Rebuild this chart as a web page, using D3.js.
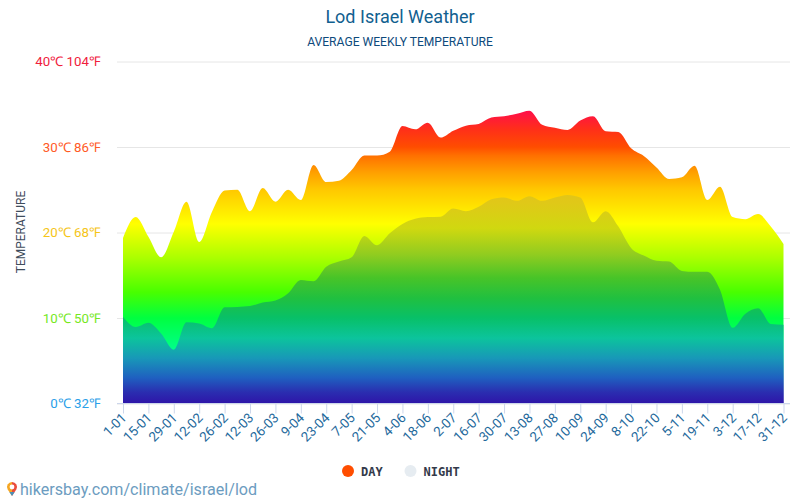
<!DOCTYPE html>
<html>
<head>
<meta charset="utf-8">
<title>Lod Israel Weather</title>
<script src="https://cdn.jsdelivr.net/npm/d3@7"></script>
<style>
  body { margin: 0; background: #fff; }
  text { font-family: Roboto, sans-serif; }
</style>
</head>
<body>
<div id="chart"></div>
<script>
// weekly values
const weeks = ['1-01','8-01','15-01','22-01','29-01','5-02','12-02','19-02','26-02','5-03','12-03','19-03','26-03',
  '2-04','9-04','16-04','23-04','30-04','7-05','14-05','21-05','28-05','4-06','11-06','18-06','25-06',
  '2-07','9-07','16-07','23-07','30-07','6-08','13-08','20-08','27-08','3-09','10-09','17-09','24-09',
  '1-10','8-10','15-10','22-10','29-10','5-11','12-11','19-11','26-11','3-12','10-12','17-12','24-12','31-12'];

const dayTemps = [19.35,21.8,19.5,17.1,20.1,23.6,18.9,22.4,24.9,25,22.5,25.2,
  23.6,25,23.8,27.9,25.9,26.05,27.3,29,29,29.45,32.45,32.07,32.85,31.1,31.9,32.5,32.7,33.45,33.6,33.9,34.25,
  32.6,32.25,32,33.1,33.6,31.85,31.75,29.85,28.95,27.6,26.25,26.45,27.8,23.8,25.35,21.8,21.55,22.15,20.7,18.65];

const nightTemps = [10.15,8.95,9.45,8.2,6.3,9.5,9.35,8.8,11.25,11.3,11.4,11.8,
  12.05,12.9,14.45,14.3,16,16.6,17.1,19.6,18.5,19.9,21,21.6,21.8,21.85,22.8,22.5,23,23.9,24.1,23.7,24.25,
  23.7,24.1,24.4,24.1,21.2,22.5,20.7,18.2,17.3,16.7,16.6,15.5,15.4,15.4,13.3,8.85,10.5,11.15,9.3,9.2];

const yTicks = [0, 10, 20, 30, 40];
const yTickLabels = ['0℃ 32℉', '10℃ 50℉', '20℃ 68℉', '30℃ 86℉', '40℃ 104℉'];
const yTickColors = ['#2aa0e8', '#76e81e', '#f5c518', '#ff5a26', '#f0203c'];

// [temperature, colour]
const dayStops = [[0,'#2e14a8'],[6,'#00ff90'],[10,'#00ff40'],[13,'#48ff00'],[17,'#aaff00'],[21,'#ffff00'],
  [25,'#ffc800'],[27,'#ffa000'],[29,'#ff7000'],[30,'#ff4d00'],[32,'#ff3018'],[34.5,'#ff0a50']];
const nightStops = [[0,'#2e14a8'],[1.35,'#2a2eb0'],[3,'#1f60c0'],[5.3,'#1898b8'],[7.65,'#0cc49c'],[10,'#08c068'],
  [12.3,'#20c040'],[14.7,'#48c428'],[17.4,'#90cc20'],[20.5,'#d0d810'],[23.5,'#e0c818'],[24.5,'#e2c518']];

const width = 800, height = 500;

const svg = d3.select('#chart').append('svg')
  .attr('width', width)
  .attr('height', height)
  .style('display', 'block');

const x = d3.scalePoint().domain(weeks).range([123, 783.5]);
const y = d3.scaleLinear().domain([0, 40]).range([403.5, 61.5]);

function addGradient(id, stops) {
  let grad = svg.append('defs').append('linearGradient')
    .attr('id', id)
    .attr('gradientUnits', 'userSpaceOnUse')
    .attr('x1', 0).attr('x2', 0)
    .attr('y1', y(0)).attr('y2', y(stops[stops.length - 1][0]));
  let top = stops[stops.length - 1][0];
  stops.forEach(s => {
    grad.append('stop').attr('offset', s[0] / top).attr('stop-color', s[1]);
  });
}
addGradient('dayFill', dayStops);
addGradient('nightFill', nightStops);

// grid + y labels
const yAxis = svg.append('g')
  .attr('transform', 'translate(117,0)')
  .call(d3.axisLeft(y).tickValues(yTicks).tickSize(-673).tickPadding(16).tickFormat((d, i) => yTickLabels[i]));
yAxis.select('.domain').remove();
yAxis.selectAll('line').attr('stroke', '#e6e6e6');
yAxis.selectAll('text')
  .style('font-size', '13.3px')
  .attr('fill', (d, i) => yTickColors[i]);

// areas
const makeArea = vals => d3.area()
  .x((d, i) => x(weeks[i]))
  .y0(y(0))
  .y1(d => y(d))
  .curve(d3.curveMonotoneX)(vals);

svg.append('path').attr('d', makeArea(dayTemps)).attr('fill', 'url(#dayFill)');
svg.append('path').attr('d', makeArea(nightTemps)).attr('fill', 'url(#nightFill)');

// x axis, every second week is labelled
const xAxis = svg.append('g')
  .attr('transform', 'translate(0,' + y(0) + ')')
  .call(d3.axisBottom(x).tickValues(weeks.filter((d, i) => i % 2 == 0)).tickSize(10).tickSizeOuter(0));
xAxis.select('.domain').remove();
xAxis.append('line').attr('x1', 117).attr('x2', 790).attr('stroke', '#ccd6eb');
xAxis.selectAll('.tick line').attr('stroke', '#ccd6eb');
xAxis.selectAll('.tick text')
  .attr('text-anchor', 'end')
  .attr('transform', 'translate(-3.5,5) rotate(-45)')
  .attr('dy', '0.32em')
  .attr('y', 8)
  .attr('x', -2)
  .attr('fill', '#1f6a9c')
  .style('font-size', '13.4px');

// titles
svg.append('text').attr('x', 400).attr('y', 23).attr('text-anchor', 'middle')
  .attr('fill', '#11608f').style('font-size', '18px').text('Lod Israel Weather');
svg.append('text').attr('x', 400).attr('y', 46).attr('text-anchor', 'middle')
  .attr('fill', '#0d4a7c').style('font-size', '12.1px').text('AVERAGE WEEKLY TEMPERATURE');
svg.append('text').attr('transform', 'translate(25,232) rotate(-90)').attr('text-anchor', 'middle')
  .attr('fill', '#3f4d5c').style('font-size', '12px').text('TEMPERATURE');

// legend
const legend = [['DAY', '#ff4d00', 348], ['NIGHT', '#e6ecf1', 410.5]];
legend.forEach(l => {
  svg.append('circle').attr('cx', l[2]).attr('cy', 471).attr('r', 6).attr('fill', l[1]);
  svg.append('text').attr('x', l[2] + 13).attr('y', 475.5)
    .attr('fill', '#333a4a')
    .style('font-family', '"DejaVu Sans Mono", monospace')
    .style('font-weight', 'bold')
    .style('font-size', '12px')
    .text(l[0]);
});

// source line with the little pin
const pin = svg.append('g').attr('transform', 'translate(12,487)');
pin.append('path').attr('d', 'M0,9 L-4.3,2.6 A5,5 0 0 1 0,-5 Z').attr('fill', '#f5a623');
pin.append('path').attr('d', 'M0,-5 A5,5 0 0 1 4.3,2.6 L0,9 Z').attr('fill', '#ea4c3c');
pin.append('path').attr('d', 'M0,9 L-2.6,5 L2.6,5 Z').attr('fill', '#4a90b8');
pin.append('circle').attr('cx', 0).attr('cy', 0).attr('r', 2.4).attr('fill', '#fff');

svg.append('text').attr('x', 20).attr('y', 495)
  .attr('fill', '#6c9cc0').style('font-size', '16.1px').text('hikersbay.com/climate/israel/lod');
</script>
</body>
</html>
